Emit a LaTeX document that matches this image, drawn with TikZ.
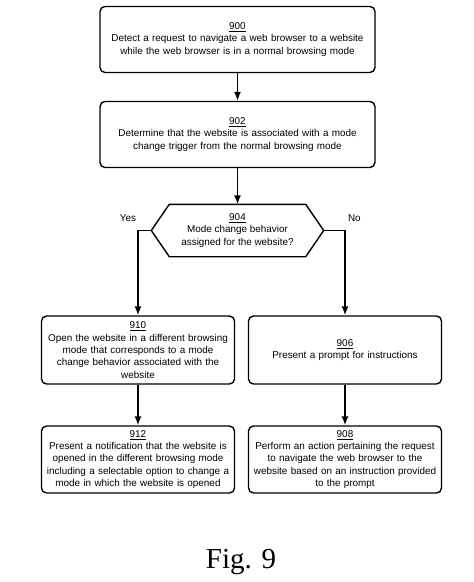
\documentclass[tikz,border=0pt]{standalone}
\usepackage{fontspec}
\setmainfont{Liberation Sans}
\newfontfamily\figfont{Liberation Serif}
\usetikzlibrary{arrows.meta,positioning}

\begin{document}
\begin{tikzpicture}[x=1pt,y=-1pt,>={Latex[length=9pt,width=7pt]},
		line width=1.4pt,font=\fontsize{9.9}{12.3}\selectfont]
		\tikzstyle{stepbox}=[draw=black,rounded corners=5pt,align=center,inner sep=1pt,
			minimum height=66pt]
		\tikzstyle{wide}=[stepbox,minimum width=275pt,text width=270pt]
		\tikzstyle{half}=[stepbox,minimum width=193pt,text width=190pt,minimum height=68pt]
		\useasboundingbox (0,0) rectangle (474,582);

		\node[wide] (s900) at (237.5,39.5) {\underline{900}\\Detect a request to navigate a web browser to a website\\while the web browser is in a normal browsing mode};
		\node[wide] (s902) at (237.5,134.5) {\underline{902}\\Determine that the website is associated with a mode\\change trigger from the normal browsing mode};
		\node[minimum width=171pt,minimum height=51pt,inner sep=0pt,align=center] (s904) at (237.5,230.5)
			{\underline{904}\\Mode change behavior\\assigned for the website?};
		\draw ([xshift=18pt]s904.north west) -- ([xshift=-18pt]s904.north east) -- (s904.east)
			-- ([xshift=-18pt]s904.south east) -- ([xshift=18pt]s904.south west) -- (s904.west) -- cycle;
		\node[half] (s910) at (138,350) {\underline{910}\\Open the website in a different browsing\\mode that corresponds to a mode\\change behavior associated with the\\website};
		\node[half] (s906) at (345,350) {\underline{906}\\Present a prompt for instructions};
		\node[half,minimum height=67pt] (s912) at (138,459.5) {\underline{912}\\Present a notification that the website is\\opened in the different browsing mode\\including a selectable option to change a\\mode in which the website is opened};
		\node[half,minimum height=67pt] (s908) at (345,459.5) {\underline{908}\\Perform an action pertaining the request\\to navigate the web browser to the\\website based on an instruction provided\\to the prompt};
		\node[font=\figfont\fontsize{29}{32}\selectfont] (fig) at (241,562) {Fig. 9};

		% connectors
		\draw[->] (s900) -- (s902);
		\draw[->] (s902) -- (s904);
		\draw[->] (s904.west) -| node[pos=0.5,anchor=south east,yshift=5pt,xshift=2pt] {Yes} (s910.north);
		\draw[->] (s904.east) -| node[pos=0.5,anchor=south west,yshift=5pt,xshift=-1pt] {No} (s906.north);
		\draw[->] (s910) -- (s912);
		\draw[->] (s906) -- (s908);
\end{tikzpicture}
\end{document}
